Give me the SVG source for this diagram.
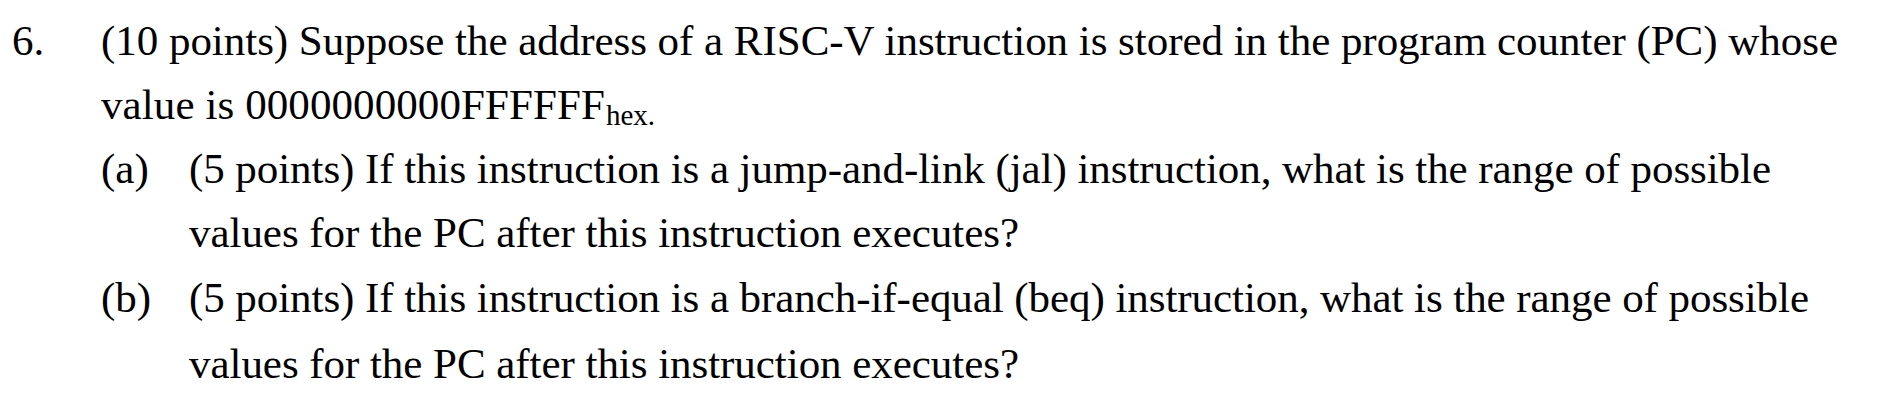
<svg xmlns="http://www.w3.org/2000/svg" width="1883" height="420" viewBox="0 0 1883 420">
<style>
text{font-family:"Liberation Serif","Times New Roman",serif;font-size:43px;fill:#000}
.s{font-size:29px}
</style>
<rect width="1883" height="420" fill="#fff"/>
<g id="q6">
<text x="12" y="55">6.</text>
<text x="101" y="55" textLength="1737" lengthAdjust="spacing">(10 points) Suppose the address of a RISC-V instruction is stored in the program counter (PC) whose</text>
<text x="101" y="119" textLength="504" lengthAdjust="spacing">value is 0000000000FFFFFF</text>
<text class="s" x="606" y="125">hex.</text>
</g>
<g id="qa">
<text x="101" y="183">(a)</text>
<text x="189" y="183" textLength="1582" lengthAdjust="spacing">(5 points) If this instruction is a jump-and-link (jal) instruction, what is the range of possible</text>
<text x="189" y="247" textLength="830" lengthAdjust="spacing">values for the PC after this instruction executes?</text>
</g>
<g id="qb">
<text x="101" y="312">(b)</text>
<text x="189" y="312" textLength="1620" lengthAdjust="spacing">(5 points) If this instruction is a branch-if-equal (beq) instruction, what is the range of possible</text>
<text x="189" y="378" textLength="830" lengthAdjust="spacing">values for the PC after this instruction executes?</text>
</g>
</svg>
